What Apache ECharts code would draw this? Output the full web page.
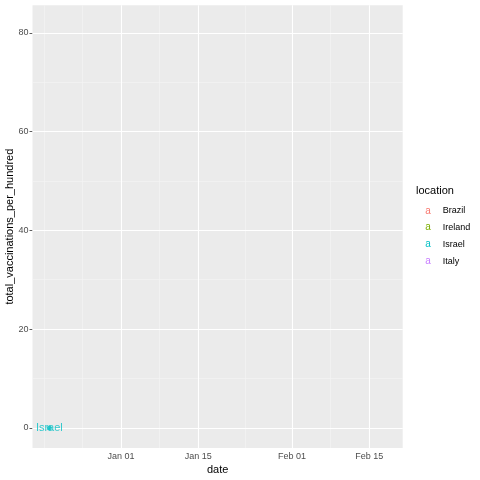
<!DOCTYPE html>
<html lang="en">
<head>
    <meta charset="utf-8">
    <title>Vaccinations</title>
    <script src="https://cdn.jsdelivr.net/npm/echarts@6/dist/echarts.min.js"></script>
    <style>
        html, body { margin: 0; padding: 0; background: #fff; }
    </style>
</head>
<body>

<div id="main" style="width:480px;height:480px;"></div>

<script type="text/javascript">

    // data
    var locations = ['Brazil', 'Ireland', 'Israel', 'Italy'];
    var locColors = ['#F8766D', '#7CAE00', '#00BFC4', '#C77CFF'];
    var israelDates = [[2020, 11, 19]];
    var israelValues = [0];
    var xBreaks = [[2021, 0, 1], [2021, 0, 15], [2021, 1, 1], [2021, 1, 15]];
    var xMinorBreaks = [[2020, 11, 18], [2020, 11, 25], [2021, 0, 8], [2021, 0, 23, 12], [2021, 1, 8]];
    var yBreaks = [0, 20, 40, 60, 80];
    var yMinorBreaks = [10, 30, 50, 70];

    function ts(d) { return new Date(d[0], d[1], d[2], d[3] || 0).getTime(); }
    var months = ['Jan', 'Feb', 'Mar', 'Apr', 'May', 'Jun', 'Jul', 'Aug', 'Sep', 'Oct', 'Nov', 'Dec'];

    // ggplot style 5% expansion
    var dataMin = ts([2020, 11, 19]), dataMax = ts([2021, 1, 18]);
    var xpad = (dataMax - dataMin) * 0.05;
    var yLo = 0, yHi = 81.5, ypad = (yHi - yLo) * 0.05;

    var font = 'Liberation Sans';
    var myChart = echarts.init(document.getElementById('main'));

    var gridLines = [];
    xMinorBreaks.forEach(function (d) {
        gridLines.push({ xAxis: ts(d), lineStyle: { color: '#F5F5F5', width: 0.6, type: 'solid' } });
    });
    yMinorBreaks.forEach(function (v) {
        gridLines.push({ yAxis: v, lineStyle: { color: '#F5F5F5', width: 0.6, type: 'solid' } });
    });
    xBreaks.forEach(function (d) {
        gridLines.push({ xAxis: ts(d), lineStyle: { color: '#FFFFFF', width: 1.1, type: 'solid' } });
    });
    yBreaks.forEach(function (v) {
        gridLines.push({ yAxis: v, lineStyle: { color: '#FFFFFF', width: 1.1, type: 'solid' } });
    });

    var series = locations.map(function (name, i) {
        var pts = [];
        if (name === 'Israel') {
            for (var k = 0; k < israelDates.length; k++) {
                pts.push([ts(israelDates[k]), israelValues[k]]);
            }
        }
        return {
            name: name,
            type: 'scatter',
            symbolSize: 5,
            itemStyle: { color: locColors[i] },
            data: pts,
            z: 5,
            label: {
                show: true,
                position: 'inside',
                formatter: function () { return name; },
                color: locColors[i],
                fontFamily: font,
                fontSize: 11
            }
        };
    });
    series.unshift({
        name: 'grid',
        type: 'line',
        data: [],
        silent: true,
        z: 1,
        markLine: {
            silent: true,
            symbol: 'none',
            label: { show: false },
            data: gridLines,
            animation: false
        }
    });

    var rich = {};
    locations.forEach(function (n, i) {
        rich['k' + i] = { color: locColors[i], fontSize: 10, lineHeight: 10, fontFamily: font, width: 14, align: 'center' };
    });
    rich.t = { color: '#000', fontSize: 9, lineHeight: 10, fontFamily: font, padding: [0, 0, 0, 1] };

    option = {
        animation: false,
        backgroundColor: '#ffffff',
        title: {
            text: 'location',
            left: 414,
            top: 183,
            padding: 2,
            textStyle: { fontFamily: font, fontSize: 11, fontWeight: 'normal', color: '#000' }
        },
        legend: {
            orient: 'vertical',
            left: 411,
            top: 200,
            itemWidth: 0,
            itemHeight: 10,
            itemGap: 4.7,
            icon: 'rect',
            data: locations,
            selectedMode: false,
            formatter: function (name) {
                return '{k' + locations.indexOf(name) + '|a}  {t|' + name + '}';
            },
            textStyle: { rich: rich, fontFamily: font, lineHeight: 10 }
        },
        grid: {
            left: 32.5,
            right: 77.3,
            top: 5.3,
            bottom: 32,
            outerBoundsMode: 'none',
            containLabel: false,
            show: true,
            backgroundColor: '#EBEBEB',
            borderWidth: 0
        },
        xAxis: {
            type: 'value',
            min: dataMin - xpad,
            max: dataMax + xpad,
            name: 'date',
            nameLocation: 'middle',
            nameGap: 16,
            nameMoveOverlap: false,
            nameTextStyle: { fontFamily: font, fontSize: 11, color: '#000' },
            axisLine: { show: false },
            axisTick: {
                show: true, length: 3, inside: false,
                lineStyle: { color: '#333333', width: 0.8 },
                customValues: xBreaks.map(ts)
            },
            axisLabel: {
                customValues: xBreaks.map(ts),
                formatter: function (v) {
                    var d = new Date(v);
                    var dd = d.getDate();
                    return months[d.getMonth()] + ' ' + (dd < 10 ? '0' + dd : dd);
                },
                color: '#4D4D4D',
                fontFamily: font,
                fontSize: 9,
                margin: 4
            },
            splitLine: { show: false }
        },
        yAxis: {
            type: 'value',
            min: yLo - ypad,
            max: yHi + ypad,
            name: 'total_vaccinations_per_hundred',
            nameLocation: 'middle',
            nameGap: 17,
            nameMoveOverlap: false,
            nameTextStyle: { fontFamily: font, fontSize: 11, color: '#000' },
            axisLine: { show: false },
            axisTick: {
                show: true, length: 3, inside: false,
                lineStyle: { color: '#333333', width: 0.8 },
                customValues: yBreaks
            },
            axisLabel: {
                customValues: yBreaks,
                color: '#4D4D4D',
                fontFamily: font,
                fontSize: 9,
                margin: 4
            },
            splitLine: { show: false }
        },
        series: series
    };

    myChart.setOption(option);

</script>

</body>
</html>
